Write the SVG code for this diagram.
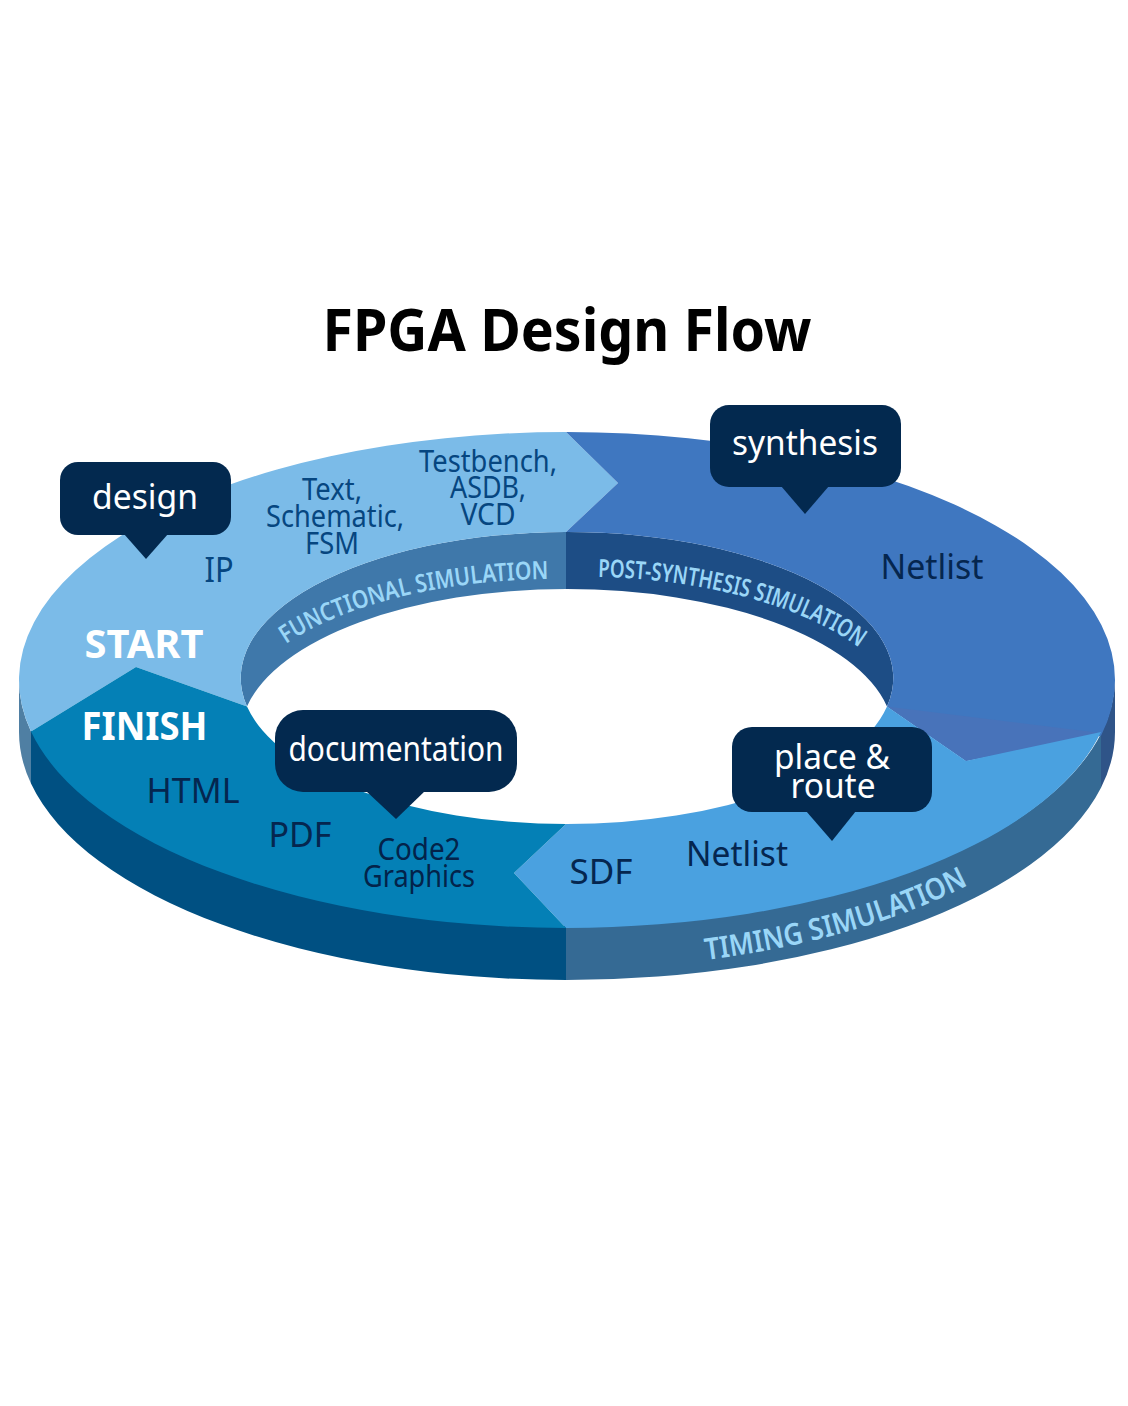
<svg xmlns="http://www.w3.org/2000/svg" width="1128" height="1406" viewBox="0 0 1128 1406">
<style>
text{font-family:"Noto Sans","Open Sans","Liberation Sans",sans-serif;text-anchor:middle}
.title{font-size:60px;font-weight:700;fill:#000}
.bub{fill:#03294f}
.bt{font-size:35px;fill:#fff}
.big{font-size:40px;font-weight:700;fill:#fff}
.l1{font-size:30px;fill:#064680}
.l2{font-size:35px;fill:#05264f}
.l3{font-size:30px;fill:#03234a}
.sim{font-size:25px;font-weight:600;fill:#9ad6f7;text-anchor:start}
</style>
<defs>
<path id="pf" d="M280,648 A326,146 0 0 1 566,579 L600,580"/>
<path id="ps" d="M598,577 A326,150 0 0 1 866,653"/>
<path id="pt" d="M706,960 A548,255 0 0 0 970,884"/>
</defs>
<rect width="1128" height="1406" fill="#fff"/>
<text class="title" x="567" y="351" textLength="489" lengthAdjust="spacingAndGlyphs">FPGA Design Flow</text>
<g id="ring-walls">
<path fill="#4f7fa3" d="M19,680 A548,248 0 0 0 31,731.6 L31,783.6 A548,248 0 0 1 19,732Z"/>
<path fill="#005082" d="M31,729.6 A548,248 0 0 0 566,926 L566,980 A548,248 0 0 1 31,783.6Z"/>
<path fill="#356a94" d="M566,926 A548,248 0 0 0 1101,733.7 L1101,787.7 A548,248 0 0 1 566,980Z"/>
<path fill="#2f5488" d="M1101,733.7 A548,248 0 0 0 1115,678 L1115,732 A548,248 0 0 1 1101,787.7Z"/>
<path fill="#3f78aa" d="M566,532 A326,146 0 0 0 247,706.5 A326,146 0 0 1 566,589Z"/>
<path fill="#1d4d85" d="M566,532 A326,146 0 0 1 887,706.5 A326,146 0 0 0 566,589Z"/>
</g>
<g id="connectors">
<path id="seg-design" fill="#7bbbe8" d="M566,432 L618,483 L566,532 A326,146 0 0 0 247,706.5 L136,667 L31,731.6 A548,248 0 0 1 566,432Z"/>
<path id="seg-synthesis" fill="#3f77c0" d="M566,432 A548,248 0 0 1 1101,735.7 L966,761 L887,706.5 A326,146 0 0 0 566,532 L618,483Z"/>
<path fill="#4873ba" d="M887,706.5 L1101,733 L966,761Z"/>
<path id="seg-place" fill="#4aa1e0" d="M887,706.5 L966,761 L1101,732 A548,248 0 0 1 566,928 L514,873 L566,824 A326,146 0 0 0 887,706.5Z"/>
<path id="seg-doc" fill="#0480b6" d="M31,731.6 L136,667 L247,706.5 A326,146 0 0 0 566,824 L514,873 L566,928 A548,248 0 0 1 31,731.6Z"/>
</g>
<g id="node-labels">
<text class="big" x="144" y="658" textLength="119" lengthAdjust="spacingAndGlyphs">START</text>
<text class="big" x="144.500" y="740" textLength="126" lengthAdjust="spacingAndGlyphs">FINISH</text>
<text class="l2" x="219" y="582" style="fill:#064680" textLength="29" lengthAdjust="spacingAndGlyphs">IP</text>
<text class="l1"><tspan x="332" y="500" textLength="60" lengthAdjust="spacingAndGlyphs">Text,</tspan><tspan x="335" y="527" textLength="138" lengthAdjust="spacingAndGlyphs">Schematic,</tspan><tspan x="332" y="554" textLength="54" lengthAdjust="spacingAndGlyphs">FSM</tspan></text>
<text class="l1"><tspan x="488" y="472" textLength="138" lengthAdjust="spacingAndGlyphs">Testbench,</tspan><tspan x="488" y="498" textLength="76" lengthAdjust="spacingAndGlyphs">ASDB,</tspan><tspan x="488" y="525" textLength="55" lengthAdjust="spacingAndGlyphs">VCD</tspan></text>
<text class="l2" x="932" y="579" textLength="103" lengthAdjust="spacingAndGlyphs">Netlist</text>
<text class="l2" x="737" y="866" textLength="102" lengthAdjust="spacingAndGlyphs">Netlist</text>
<text class="l2" x="601" y="884" textLength="63" lengthAdjust="spacingAndGlyphs">SDF</text>
<text class="l2" x="193" y="803" textLength="93" lengthAdjust="spacingAndGlyphs">HTML</text>
<text class="l2" x="300" y="847" textLength="63" lengthAdjust="spacingAndGlyphs">PDF</text>
<text class="l3"><tspan x="419" y="860" textLength="83" lengthAdjust="spacingAndGlyphs">Code2</tspan><tspan x="419" y="887" textLength="112" lengthAdjust="spacingAndGlyphs">Graphics</tspan></text>
<text class="sim"><textPath href="#pf" startOffset="7" textLength="274" lengthAdjust="spacingAndGlyphs">FUNCTIONAL SIMULATION</textPath></text>
<text class="sim"><textPath href="#ps" textLength="274" lengthAdjust="spacingAndGlyphs">POST-SYNTHESIS SIMULATION</textPath></text>
<text class="sim" style="font-size:30px"><textPath href="#pt" textLength="274" lengthAdjust="spacingAndGlyphs">TIMING SIMULATION</textPath></text>
</g>
<g id="design"><rect class="bub" x="60" y="462" width="171" height="73" rx="18"/><path class="bub" d="M124,534 L146,559 L168,534Z"/><text class="bt" x="145" y="509" textLength="106" lengthAdjust="spacingAndGlyphs">design</text></g>
<g id="synthesis"><rect class="bub" x="710" y="405" width="191" height="82" rx="19"/><path class="bub" d="M781,486 L805,514 L829,486Z"/><text class="bt" x="805" y="455" textLength="146" lengthAdjust="spacingAndGlyphs">synthesis</text></g>
<g id="documentation"><rect class="bub" x="275" y="710" width="242" height="82" rx="28"/><path class="bub" d="M366,791 L396,819 L425,791Z"/><text class="bt" x="396" y="761" textLength="215" lengthAdjust="spacingAndGlyphs">documentation</text></g>
<g id="place-route"><rect class="bub" x="732" y="727" width="200" height="85" rx="20"/><path class="bub" d="M806,811 L832,841 L856,811Z"/><text class="bt"><tspan x="832" y="769" textLength="116" lengthAdjust="spacingAndGlyphs">place &amp;</tspan><tspan x="833" y="798" textLength="85" lengthAdjust="spacingAndGlyphs">route</tspan></text></g>
</svg>
